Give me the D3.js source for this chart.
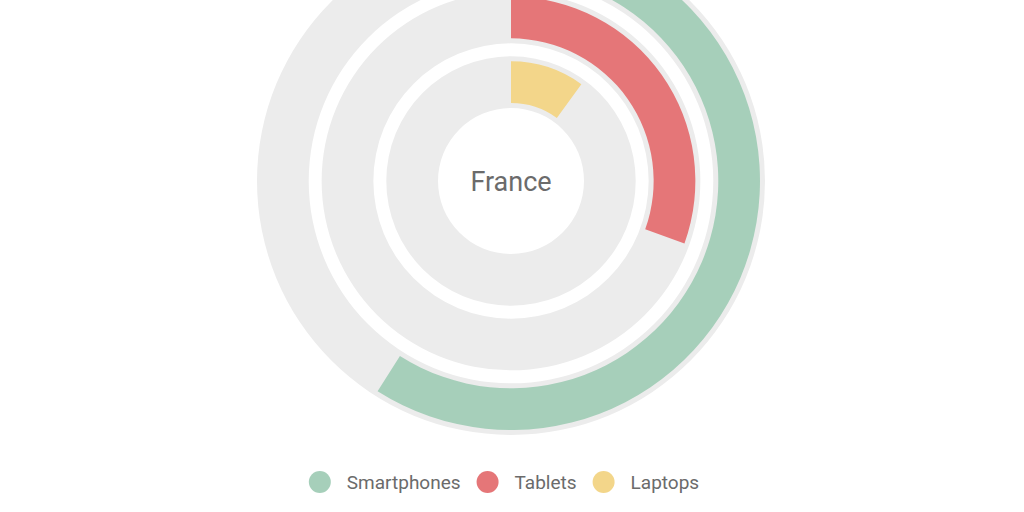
<!DOCTYPE html>
<html>
<head>
<meta charset="utf-8">
<script src="https://cdn.jsdelivr.net/npm/d3@7"></script>
<style>
  html, body { margin: 0; padding: 0; background: #fff; }
  svg { display: block; font-family: Roboto, "Noto Sans", sans-serif; }
</style>
</head>
<body>
<svg width="1024" height="512"></svg>
<script>
const categories = ["Smartphones", "Tablets", "Laptops"];
const values = [59, 30.5, 10];
const colors = ["#a6cfba", "#e57678", "#f3d68a"];
const centerLabel = "France";

const width = 1024;
const height = 512;
const cx = 511;
const cy = 181;
const INSET = 5;

const svg = d3.select("svg");

// rings from outside to inside (range reversed so the first category is outermost)
const ring = d3
  .scaleBand()
  .domain(categories)
  .range([254, 73])
  .paddingInner(0.2);

const angle = d3.scaleLinear().domain([0, 100]).range([0, 2 * Math.PI]);

const g = svg.append("g").attr("transform", `translate(${cx},${cy})`);

const rows = categories.map((c, i) => ({
  name: c,
  value: values[i],
  color: colors[i],
}));

// grey tracks
g.selectAll("path.track")
  .data(rows)
  .join("path")
  .attr("class", "track")
  .attr("fill", "#ececec")
  .attr("d", (d) =>
    d3.arc()({
      innerRadius: ring(d.name),
      outerRadius: ring(d.name) + ring.bandwidth(),
      startAngle: 0,
      endAngle: 2 * Math.PI,
    })
  );

// value bars
g.selectAll("path.bar")
  .data(rows)
  .join("path")
  .attr("class", "bar")
  .attr("fill", (d) => d.color)
  .attr("d", (d) =>
    d3.arc()({
      innerRadius: ring(d.name) + INSET,
      outerRadius: ring(d.name) + ring.bandwidth() - INSET,
      startAngle: 0,
      endAngle: angle(d.value),
    })
  );

g.append("text")
  .attr("text-anchor", "middle")
  .attr("y", 10)
  .attr("font-size", "27px")
  .attr("fill", "#6b6b6b")
  .text(centerLabel);

// legend under the chart
const legend = svg.append("g").attr("transform", `translate(0,482)`);
const items = legend
  .selectAll("g")
  .data(rows)
  .join("g");

items
  .append("circle")
  .attr("r", 11)
  .attr("fill", (d) => d.color);

items
  .append("text")
  .attr("x", 27)
  .attr("dy", "0.35em")
  .attr("font-size", "19px")
  .attr("fill", "#6b6b6b")
  .text((d) => d.name);

let x = 0;
const offsets = [];
items.each(function () {
  const tw = d3.select(this).select("text").node().getComputedTextLength();
  offsets.push(x);
  x += 27 + tw + 27;
});
const total = x - 16;
const start = 504 - total / 2 + 11;
items.attr("transform", (d, i) => `translate(${start + offsets[i]},0)`);
</script>
</body>
</html>
